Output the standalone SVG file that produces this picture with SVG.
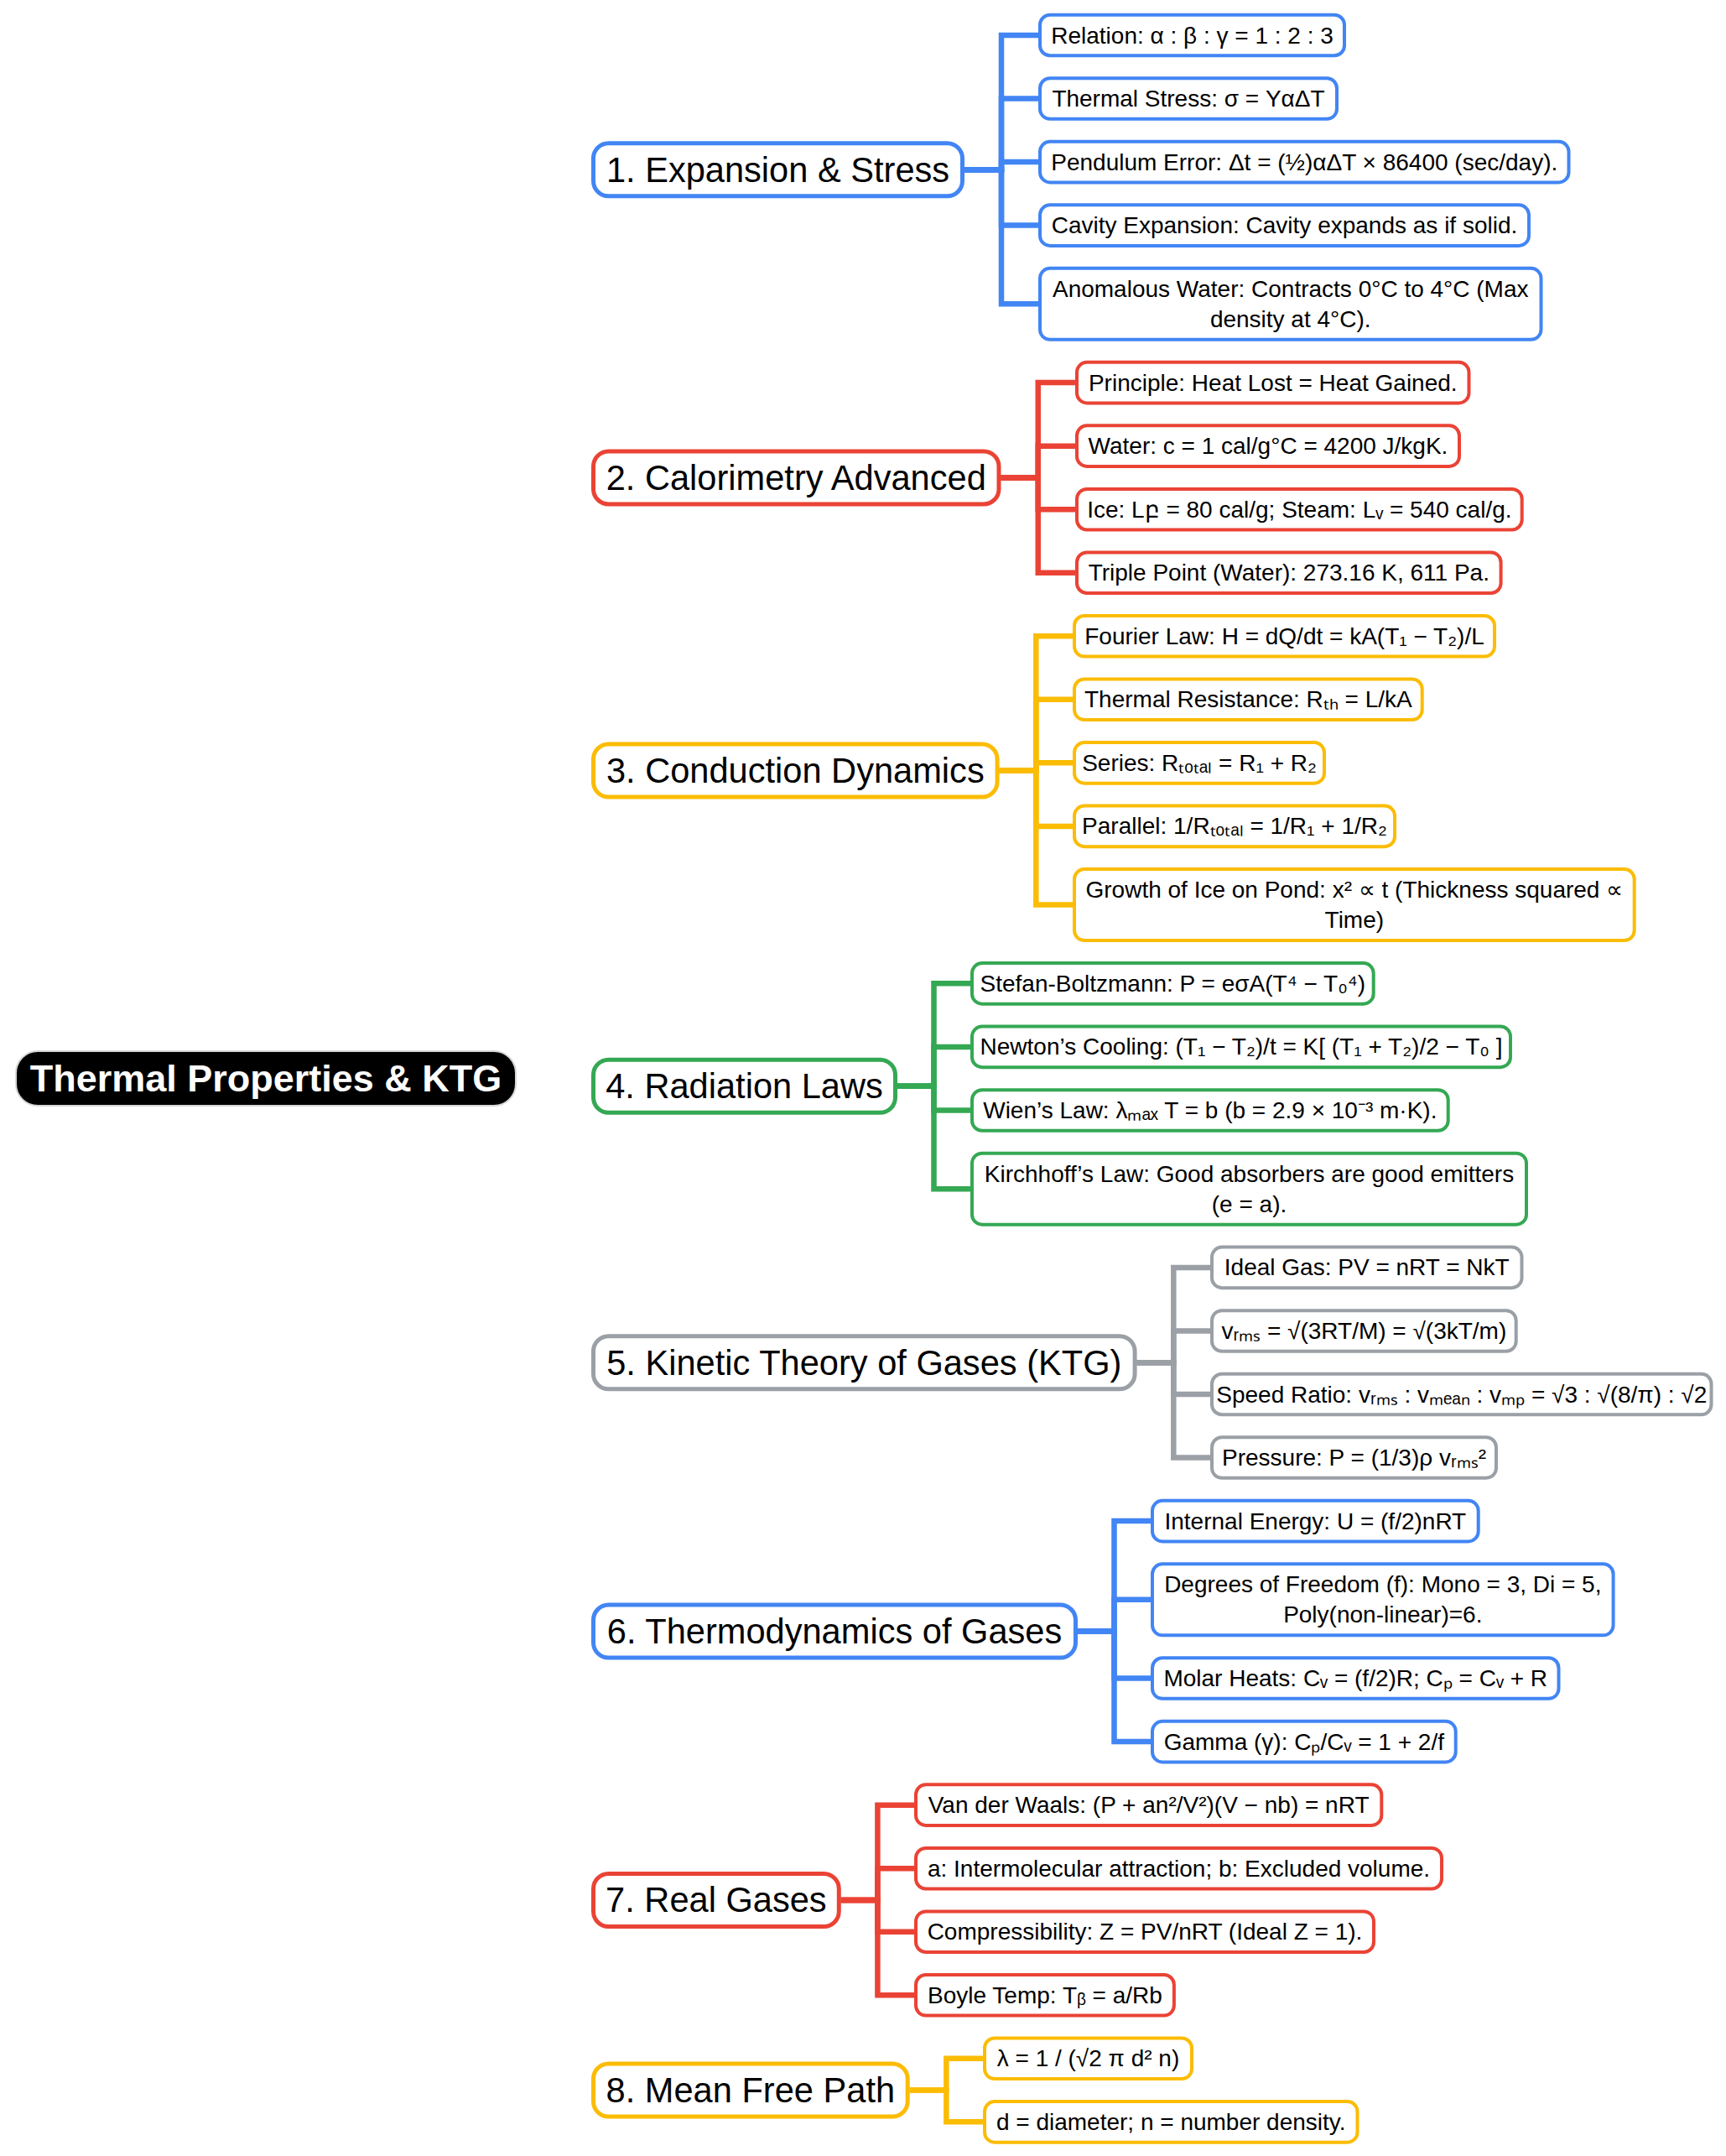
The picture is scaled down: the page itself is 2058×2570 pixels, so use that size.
<svg xmlns="http://www.w3.org/2000/svg" width="2058" height="2570" viewBox="0 0 2058 2570">
<style>
text{font-family:"Liberation Sans",Arial,sans-serif;fill:#000}
.root rect{fill:#000;stroke:#d6d6d6;stroke-width:2}
.root text{fill:#fff;font-weight:bold;font-size:45px;text-anchor:middle}
.br rect{fill:#fff;stroke-width:5}
.br text{font-size:41.6px;text-anchor:middle}
.lf rect{fill:#fff;stroke-width:4}
.lf text{font-size:28px;text-anchor:middle}
.c path{fill:none;stroke-width:6.5;stroke-linejoin:miter;stroke-linecap:butt}
.blue rect,.blue path{stroke:#4285F4}
.red rect,.red path{stroke:#EA4335}
.yel rect,.yel path{stroke:#FBBC04}
.grn rect,.grn path{stroke:#34A853}
.gry rect,.gry path{stroke:#9AA0A6}
</style>
<rect width="2058" height="2570" fill="#fff"/>
<g id="connectors" class="c">
<path class="blue" d="M616 1285.5H660.5V202.18H705"/>
<path class="red" d="M616 1285.5H660.5V569.41H705"/>
<path class="yel" d="M616 1285.5H660.5V918.44H705"/>
<path class="yel" d="M616 1285.5H660.5V2491.57H705"/>
<path class="red" d="M616 1285.5H660.5V2264.95H705"/>
<path class="blue" d="M616 1285.5H660.5V1944.59H705"/>
<path class="gry" d="M616 1285.5H660.5V1624.23H705"/>
<path class="grn" d="M616 1285.5H660.5V1294.77H705"/>
<g class="blue">
<path d="M1150 202.18H1194V42H1238"/>
<path d="M1150 202.18H1194V117.54H1238"/>
<path d="M1150 202.18H1194V193.08H1238"/>
<path d="M1150 202.18H1194V268.62H1238"/>
<path d="M1150 202.18H1194V362.36H1238"/>
</g>
<g class="red">
<path d="M1193.5 569.41H1237.75V456.1H1282"/>
<path d="M1193.5 569.41H1237.75V531.64H1282"/>
<path d="M1193.5 569.41H1237.75V607.18H1282"/>
<path d="M1193.5 569.41H1237.75V682.72H1282"/>
</g>
<g class="yel">
<path d="M1191.6 918.44H1235.3V758.26H1279"/>
<path d="M1191.6 918.44H1235.3V833.8H1279"/>
<path d="M1191.6 918.44H1235.3V909.34H1279"/>
<path d="M1191.6 918.44H1235.3V984.88H1279"/>
<path d="M1191.6 918.44H1235.3V1078.62H1279"/>
</g>
<g class="grn">
<path d="M1070 1294.77H1113.5V1172.36H1157"/>
<path d="M1070 1294.77H1113.5V1247.9H1157"/>
<path d="M1070 1294.77H1113.5V1323.44H1157"/>
<path d="M1070 1294.77H1113.5V1417.18H1157"/>
</g>
<g class="gry">
<path d="M1355.6 1624.23H1399.3V1510.92H1443"/>
<path d="M1355.6 1624.23H1399.3V1586.46H1443"/>
<path d="M1355.6 1624.23H1399.3V1662H1443"/>
<path d="M1355.6 1624.23H1399.3V1737.54H1443"/>
</g>
<g class="blue">
<path d="M1285 1944.59H1328.5V1813.08H1372"/>
<path d="M1285 1944.59H1328.5V1906.82H1372"/>
<path d="M1285 1944.59H1328.5V2000.56H1372"/>
<path d="M1285 1944.59H1328.5V2076.1H1372"/>
</g>
<g class="red">
<path d="M1002.8 2264.95H1046.4V2151.64H1090"/>
<path d="M1002.8 2264.95H1046.4V2227.18H1090"/>
<path d="M1002.8 2264.95H1046.4V2302.72H1090"/>
<path d="M1002.8 2264.95H1046.4V2378.26H1090"/>
</g>
<g class="yel">
<path d="M1084.7 2491.57H1128.35V2453.8H1172"/>
<path d="M1084.7 2491.57H1128.35V2529.34H1172"/>
</g>
</g>

<g id="root" class="root">
<rect x="19" y="1253" width="596" height="65" rx="26"/>
<text x="317" y="1300.5">Thermal Properties &amp; KTG</text>
</g>

<g id="b1" class="br blue"><rect x="707.5" y="170.68" width="440" height="63" rx="18"/><text x="927.5" y="216.5">1. Expansion &amp; Stress</text></g>
<g id="b2" class="br red"><rect x="707.5" y="537.91" width="483.5" height="63" rx="18"/><text x="949.25" y="583.7">2. Calorimetry Advanced</text></g>
<g id="b3" class="br yel"><rect x="707.5" y="886.94" width="481.6" height="63" rx="18"/><text x="948.3" y="932.7">3. Conduction Dynamics</text></g>
<g id="b4" class="br grn"><rect x="707.5" y="1263.27" width="360" height="63" rx="18"/><text x="887.5" y="1309">4. Radiation Laws</text></g>
<g id="b5" class="br gry"><rect x="707.5" y="1592.73" width="645.6" height="63" rx="18"/><text x="1030.3" y="1638.5">5. Kinetic Theory of Gases (KTG)</text></g>
<g id="b6" class="br blue"><rect x="707.5" y="1913.09" width="575" height="63" rx="18"/><text x="995" y="1958.8">6. Thermodynamics of Gases</text></g>
<g id="b7" class="br red"><rect x="707.5" y="2233.45" width="292.8" height="63" rx="18"/><text x="853.9" y="2279.2">7. Real Gases</text></g>
<g id="b8" class="br yel"><rect x="707.5" y="2460.07" width="374.7" height="63" rx="18"/><text x="894.85" y="2505.8">8. Mean Free Path</text></g>

<g id="n1-1" class="lf blue"><rect x="1240" y="17.7" width="363" height="48.6" rx="12"/><text x="1421.5" y="51.5">Relation: α : β : γ = 1 : 2 : 3</text></g>
<g id="n1-2" class="lf blue"><rect x="1240" y="93.24" width="354" height="48.6" rx="12"/><text x="1417" y="127">Thermal Stress: σ = YαΔT</text></g>
<g id="n1-3" class="lf blue"><rect x="1240" y="168.78" width="630.5" height="48.6" rx="12"/><text x="1555.25" y="202.6">Pendulum Error: Δt = (½)αΔT × 86400 (sec/day).</text></g>
<g id="n1-4" class="lf blue"><rect x="1240" y="244.32" width="583" height="48.6" rx="12"/><text x="1531.5" y="278.1">Cavity Expansion: Cavity expands as if solid.</text></g>
<g id="n1-5" class="lf blue"><rect x="1240" y="319.86" width="597.5" height="85" rx="12"/><text x="1538.75" y="353.9">Anomalous Water: Contracts 0°C to 4°C (Max<tspan x="1538.75" y="389.9">density at 4°C).</tspan></text></g>

<g id="n2-1" class="lf red"><rect x="1284" y="431.8" width="467.5" height="48.6" rx="12"/><text x="1517.75" y="465.6">Principle: Heat Lost = Heat Gained.</text></g>
<g id="n2-2" class="lf red"><rect x="1284" y="507.34" width="456" height="48.6" rx="12"/><text x="1512" y="541.1">Water: c = 1 cal/g°C = 4200 J/kgK.</text></g>
<g id="n2-3" class="lf red"><rect x="1284" y="582.88" width="530.7" height="48.6" rx="12"/><text x="1549.35" y="616.7">Ice: Lբ = 80 cal/g; Steam: Lᵥ = 540 cal/g.</text></g>
<g id="n2-4" class="lf red"><rect x="1284" y="658.42" width="505.6" height="48.6" rx="12"/><text x="1536.8" y="692.2">Triple Point (Water): 273.16 K, 611 Pa.</text></g>

<g id="n3-1" class="lf yel"><rect x="1281" y="733.96" width="501" height="48.6" rx="12"/><text x="1531.5" y="767.8">Fourier Law: H = dQ/dt = kA(T₁ − T₂)/L</text></g>
<g id="n3-2" class="lf yel"><rect x="1281" y="809.5" width="414.7" height="48.6" rx="12"/><text x="1488.35" y="843.3">Thermal Resistance: Rₜₕ = L/kA</text></g>
<g id="n3-3" class="lf yel"><rect x="1281" y="885.04" width="298" height="48.6" rx="12"/><text x="1430" y="918.8">Series: Rₜₒₜₐₗ = R₁ + R₂</text></g>
<g id="n3-4" class="lf yel"><rect x="1281" y="960.58" width="382" height="48.6" rx="12"/><text x="1472" y="994.4">Parallel: 1/Rₜₒₜₐₗ = 1/R₁ + 1/R₂</text></g>
<g id="n3-5" class="lf yel"><rect x="1281" y="1036.12" width="667.7" height="85" rx="12"/><text x="1614.85" y="1070.1">Growth of Ice on Pond: x² ∝ t (Thickness squared ∝<tspan x="1614.85" y="1106.1">Time)</tspan></text></g>

<g id="n4-1" class="lf grn"><rect x="1159" y="1148.06" width="478.7" height="48.6" rx="12"/><text x="1398.35" y="1181.9">Stefan-Boltzmann: P = eσA(T⁴ − T₀⁴)</text></g>
<g id="n4-2" class="lf grn"><rect x="1159" y="1223.6" width="642" height="48.6" rx="12"/><text x="1480" y="1257.4">Newton’s Cooling: (T₁ − T₂)/t = K[ (T₁ + T₂)/2 − T₀ ]</text></g>
<g id="n4-3" class="lf grn"><rect x="1159" y="1299.14" width="567.7" height="48.6" rx="12"/><text x="1442.85" y="1332.9">Wien’s Law: λₘₐₓ T = b (b = 2.9 × 10⁻³ m·K).</text></g>
<g id="n4-4" class="lf grn"><rect x="1159" y="1374.68" width="661" height="85" rx="12"/><text x="1489.5" y="1408.7">Kirchhoff’s Law: Good absorbers are good emitters<tspan x="1489.5" y="1444.7">(e = a).</tspan></text></g>

<g id="n5-1" class="lf gry"><rect x="1445" y="1486.62" width="369.5" height="48.6" rx="12"/><text x="1629.75" y="1520.4">Ideal Gas: PV = nRT = NkT</text></g>
<g id="n5-2" class="lf gry"><rect x="1445" y="1562.16" width="362.7" height="48.6" rx="12"/><text x="1626.35" y="1596">vᵣₘₛ = √(3RT/M) = √(3kT/m)</text></g>
<g id="n5-3" class="lf gry"><rect x="1445" y="1637.7" width="595.5" height="48.6" rx="12"/><text x="1742.75" y="1671.5">Speed Ratio: vᵣₘₛ : vₘₑₐₙ : vₘₚ = √3 : √(8/π) : √2</text></g>
<g id="n5-4" class="lf gry"><rect x="1445" y="1713.24" width="339" height="48.6" rx="12"/><text x="1614.5" y="1747">Pressure: P = (1/3)ρ vᵣₘₛ²</text></g>

<g id="n6-1" class="lf blue"><rect x="1374" y="1788.78" width="388.7" height="48.6" rx="12"/><text x="1568.35" y="1822.6">Internal Energy: U = (f/2)nRT</text></g>
<g id="n6-2" class="lf blue"><rect x="1374" y="1864.32" width="549.6" height="85" rx="12"/><text x="1648.8" y="1898.3">Degrees of Freedom (f): Mono = 3, Di = 5,<tspan x="1648.8" y="1934.3">Poly(non-linear)=6.</tspan></text></g>
<g id="n6-3" class="lf blue"><rect x="1374" y="1976.26" width="484.5" height="48.6" rx="12"/><text x="1616.25" y="2010.1">Molar Heats: Cᵥ = (f/2)R; Cₚ = Cᵥ + R</text></g>
<g id="n6-4" class="lf blue"><rect x="1374" y="2051.8" width="361.7" height="48.6" rx="12"/><text x="1554.85" y="2085.6">Gamma (γ): Cₚ/Cᵥ = 1 + 2/f</text></g>

<g id="n7-1" class="lf red"><rect x="1092" y="2127.34" width="555.3" height="48.6" rx="12"/><text x="1369.65" y="2161.1">Van der Waals: (P + an²/V²)(V − nb) = nRT</text></g>
<g id="n7-2" class="lf red"><rect x="1092" y="2202.88" width="627" height="48.6" rx="12"/><text x="1405.5" y="2236.7">a: Intermolecular attraction; b: Excluded volume.</text></g>
<g id="n7-3" class="lf red"><rect x="1092" y="2278.42" width="546" height="48.6" rx="12"/><text x="1365" y="2312.2">Compressibility: Z = PV/nRT (Ideal Z = 1).</text></g>
<g id="n7-4" class="lf red"><rect x="1092" y="2353.96" width="307.9" height="48.6" rx="12"/><text x="1245.95" y="2387.8">Boyle Temp: Tᵦ = a/Rb</text></g>

<g id="n8-1" class="lf yel"><rect x="1174" y="2429.5" width="247" height="48.6" rx="12"/><text x="1297.5" y="2463.3">λ = 1 / (√2 π d² n)</text></g>
<g id="n8-2" class="lf yel"><rect x="1174" y="2505.04" width="444.5" height="48.6" rx="12"/><text x="1396.25" y="2538.8">d = diameter; n = number density.</text></g>
</svg>
